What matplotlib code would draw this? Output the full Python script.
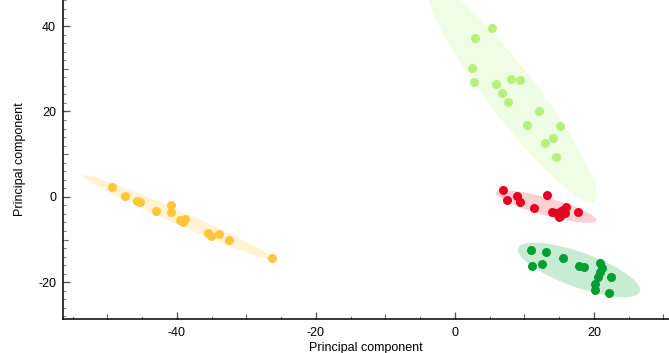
import matplotlib
matplotlib.use("Agg")
import matplotlib.pyplot as plt
import numpy as np
from matplotlib.ticker import MultipleLocator

plt.rcParams['font.family'] = ['Liberation Sans', 'DejaVu Sans']
plt.rcParams['axes.unicode_minus'] = False

# cluster points (principal component 1, principal component 2)
yellow_x = [-49.4, -47.5, -45.8, -45.3, -43.0, -40.8, -40.8, -39.6, -38.8, -39.1, -35.6, -35.1, -34.0, -32.5, -26.3]
yellow_y = [2.3, 0.3, -0.9, -1.2, -3.3, -1.9, -3.5, -5.4, -5.2, -5.9, -8.5, -9.1, -8.8, -10.1, -14.3]

lgreen_x = [5.4, 2.9, 2.4, 2.8, 5.9, 8.1, 9.4, 6.8, 7.6, 12.1, 10.3, 15.1, 14.1, 12.9, 14.6]
lgreen_y = [39.5, 37.2, 30.1, 26.8, 26.4, 27.7, 27.3, 24.4, 22.2, 20.1, 16.9, 16.5, 13.8, 12.7, 9.4]

red_x = [6.9, 7.5, 8.9, 9.3, 13.3, 11.4, 14.0, 14.6, 15.1, 15.6, 16.0, 15.8, 15.2, 17.7, 15.0]
red_y = [1.5, -0.7, 0.3, -1.1, 0.4, -2.6, -3.5, -3.8, -4.4, -3.0, -2.3, -3.8, -3.4, -3.5, -4.6]

dgreen_x = [10.9, 13.1, 11.1, 12.5, 15.5, 17.8, 18.5, 20.9, 21.1, 20.8, 20.6, 22.4, 20.1, 20.1, 22.2]
dgreen_y = [-12.5, -13.0, -16.3, -15.8, -14.2, -16.3, -16.4, -15.5, -16.7, -17.7, -18.7, -18.7, -20.4, -21.8, -22.6]

# ellipse ends (data) and width ratio
yellow_ell = [(-53.5, 5.0), (-25.9, -14.75), 0.065]
lgreen_ell = [(-3.6, 49.3), (20.1, -1.1), 0.18]
red_ell = [(5.9, 1.0), (20.3, -5.5), 0.17]
dgreen_ell = [(9.1, -12.0), (26.6, -22.2), 0.27]

fig = plt.figure(figsize=(6.69, 3.53), dpi=100)
ax = fig.add_axes([63/669, 34/353, 606/669, 319/353])
ax.set_xlim(-56.4, 30.8)
ax.set_ylim(-28.6, 46.1)


def draw_ellipse(ell, color):
    p1, p2, ratio = ell
    a1 = ax.transData.transform(p1)
    a2 = ax.transData.transform(p2)
    c = (a1 + a2) / 2
    a = (a2 - a1) / 2
    b = np.array([-a[1], a[0]]) * ratio
    t = np.linspace(0, 2*np.pi, 200)
    pts = c + np.outer(np.cos(t), a) + np.outer(np.sin(t), b)
    d = ax.transData.inverted().transform(pts)
    ax.fill(d[:, 0], d[:, 1], color=color, lw=0, zorder=1)


draw_ellipse(yellow_ell, "#fff3d4")
draw_ellipse(lgreen_ell, "#f0fde5")
draw_ellipse(red_ell, "#fdd0d2")
draw_ellipse(dgreen_ell, "#c8ebd3")

ax.scatter(yellow_x, yellow_y, s=42, color="#ffc53d", lw=0, zorder=3)
ax.scatter(lgreen_x, lgreen_y, s=42, color="#b4f07a", lw=0, zorder=3)
ax.scatter(red_x, red_y, s=42, color="#e8001e", lw=0, zorder=3)
ax.scatter(dgreen_x, dgreen_y, s=42, color="#009e30", lw=0, zorder=3)

for s in ["top", "right"]:
    ax.spines[s].set_visible(False)
ax.spines["left"].set_linewidth(1.1)
ax.spines["bottom"].set_linewidth(1.1)

ax.xaxis.set_major_locator(MultipleLocator(20))
ax.yaxis.set_major_locator(MultipleLocator(20))
ax.xaxis.set_minor_locator(MultipleLocator(5))
ax.yaxis.set_minor_locator(MultipleLocator(2))
ax.tick_params(which="major", direction="in", length=5, width=0.9, color="#555555",
               labelsize=9)
ax.tick_params(axis="x", which="major", pad=6)
ax.tick_params(axis="y", which="major", pad=5)
ax.tick_params(which="minor", direction="in", length=2, width=0.7, color="#777777")

# medium ticks every 10
sx = ax.secondary_xaxis("bottom")
sx.set_xticks(np.arange(-50, 31, 10))
sx.tick_params(direction="in", length=3.5, width=0.8, color="#555555", labelbottom=False)
sx.spines["bottom"].set_visible(False)
sy = ax.secondary_yaxis("left")
sy.set_yticks(np.arange(-20, 41, 10))
sy.tick_params(direction="in", length=3.5, width=0.8, color="#555555", labelleft=False)
sy.spines["left"].set_visible(False)

ax.set_xlabel("Principal component", fontsize=9, labelpad=2)
ax.set_ylabel("Principal component", fontsize=9, labelpad=9)

fig.savefig("out.png", dpi=100)
